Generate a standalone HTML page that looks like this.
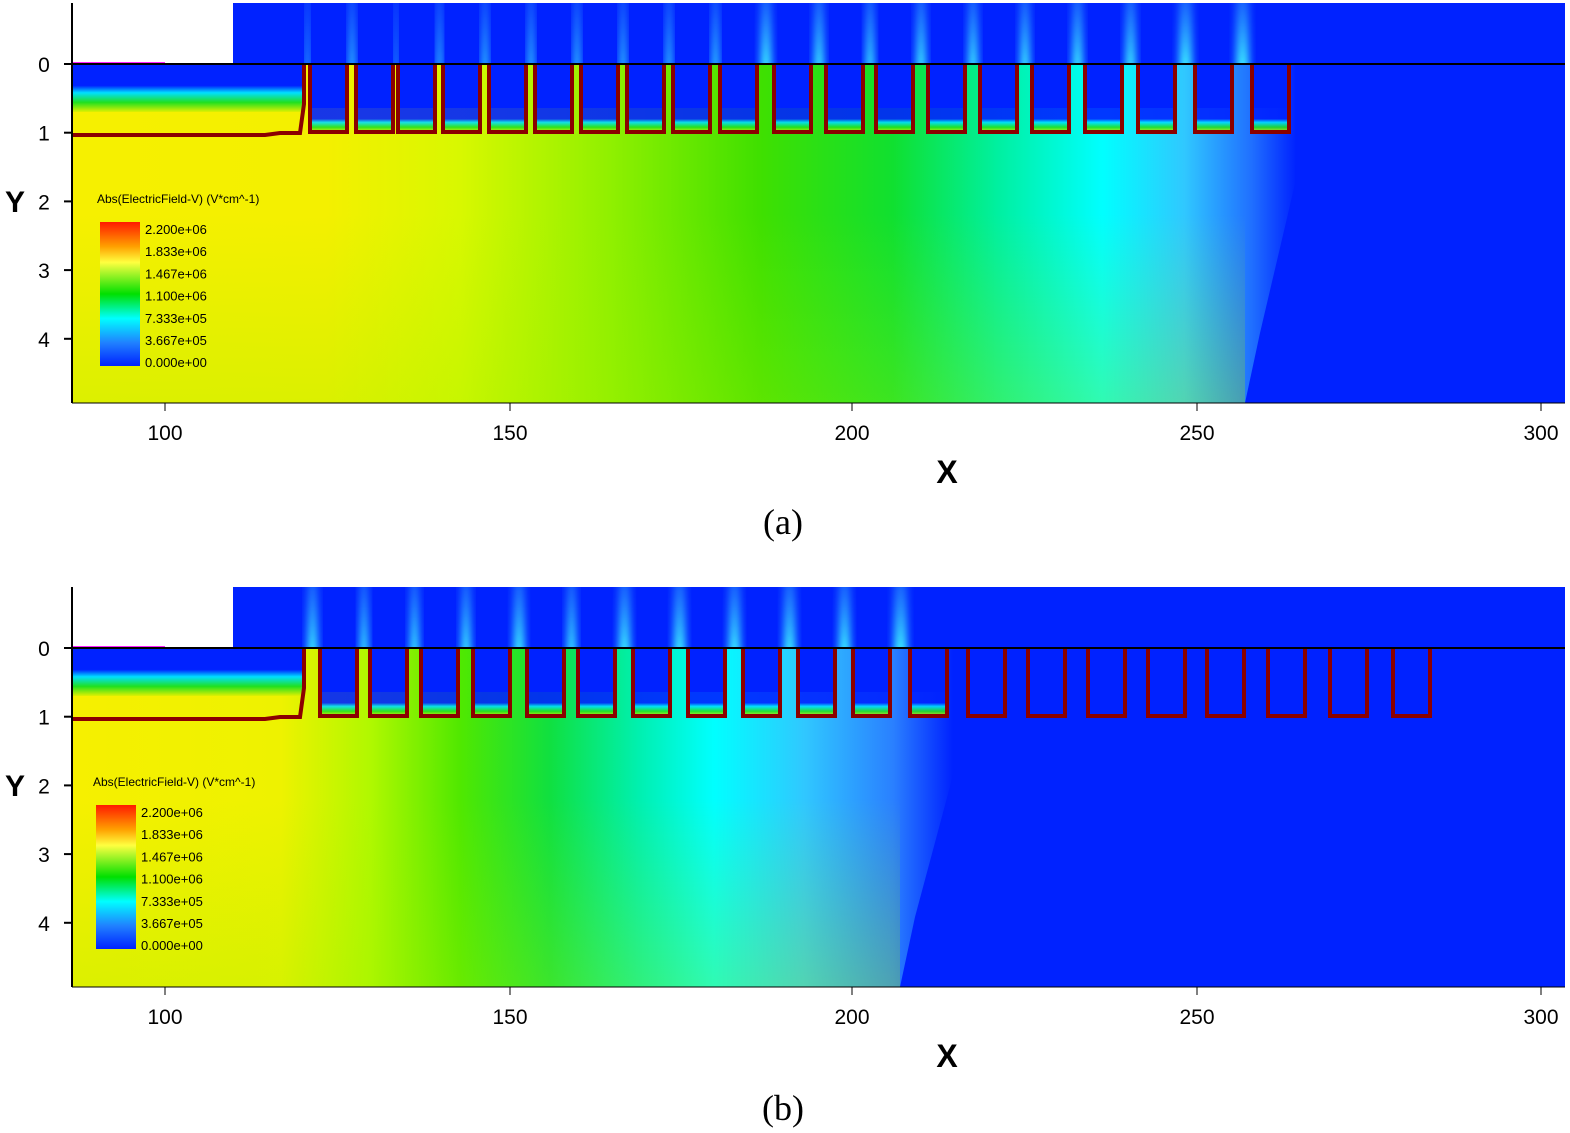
<!DOCTYPE html>
<html><head><meta charset="utf-8"><style>
body{margin:0;background:#fff;}
svg{display:block;}
.t{font-family:"Liberation Sans",sans-serif;}
</style></head><body>
<svg id="s" width="1570" height="1133" xmlns="http://www.w3.org/2000/svg">
<defs>
<linearGradient id="ga" x1="72" x2="1565" y1="0" y2="0" gradientUnits="userSpaceOnUse">
<stop offset="0" stop-color="#f6f000"/><stop offset="0.17" stop-color="#f4f000"/>
<stop offset="0.26" stop-color="#d8f800"/><stop offset="0.36" stop-color="#90f000"/>
<stop offset="0.46" stop-color="#40e000"/><stop offset="0.55" stop-color="#10e030"/>
<stop offset="0.62" stop-color="#00f0a0"/><stop offset="0.69" stop-color="#00ffff"/>
<stop offset="0.745" stop-color="#30c8ff"/><stop offset="0.79" stop-color="#2070ff"/>
<stop offset="0.82" stop-color="#0022ff"/><stop offset="1" stop-color="#0022ff"/>
</linearGradient>
<linearGradient id="gb" x1="72" x2="1565" y1="0" y2="0" gradientUnits="userSpaceOnUse">
<stop offset="0" stop-color="#f6f000"/><stop offset="0.14" stop-color="#eef200"/>
<stop offset="0.2" stop-color="#b0f800"/><stop offset="0.26" stop-color="#50e800"/>
<stop offset="0.32" stop-color="#10e040"/><stop offset="0.38" stop-color="#00f0b0"/>
<stop offset="0.43" stop-color="#00ffff"/><stop offset="0.49" stop-color="#30c8ff"/>
<stop offset="0.55" stop-color="#2a80ff"/><stop offset="0.59" stop-color="#0022ff"/>
<stop offset="1" stop-color="#0022ff"/>
</linearGradient>
<linearGradient id="vb" x1="0" x2="0" y1="0" y2="1">
<stop offset="0" stop-color="#a0f000" stop-opacity="0"/><stop offset="1" stop-color="#a0f000" stop-opacity="0.3"/>
</linearGradient>
<linearGradient id="band" x1="0" x2="0" y1="0" y2="1">
<stop offset="0" stop-color="#0022ff"/><stop offset="0.45" stop-color="#0022ff"/>
<stop offset="0.6" stop-color="#00e0ff"/><stop offset="0.8" stop-color="#20e020"/>
<stop offset="1" stop-color="#e0f000"/>
</linearGradient>
<linearGradient id="cb" x1="0" x2="0" y1="0" y2="1">
<stop offset="0" stop-color="#ff1a00"/><stop offset="0.17" stop-color="#ffa000"/>
<stop offset="0.28" stop-color="#ffff40"/><stop offset="0.5" stop-color="#00e000"/>
<stop offset="0.67" stop-color="#00ffff"/><stop offset="0.84" stop-color="#2080ff"/>
<stop offset="1" stop-color="#0022ff"/>
</linearGradient>
<linearGradient id="streak" x1="0" x2="0" y1="0" y2="1">
<stop offset="0" stop-color="#40d0ff" stop-opacity="0.4"/><stop offset="1" stop-color="#40ffff" stop-opacity="0.9"/>
</linearGradient>
<filter id="bl" x="-50%" y="0" width="200%" height="100%"><feGaussianBlur stdDeviation="4 0"/></filter>
</defs>
<g id="pa"></g><g id="pb"></g>
<text x="783" y="534" font-family="Liberation Serif" font-size="36" text-anchor="middle">(a)</text>
<text x="783" y="1120" font-family="Liberation Serif" font-size="36" text-anchor="middle">(b)</text>
</svg>
<script>
var NS="http://www.w3.org/2000/svg";
function el(p,t,a,txt){var e=document.createElementNS(NS,t);for(var k in a)e.setAttribute(k,a[k]);if(txt!==undefined)e.textContent=txt;p.appendChild(e);return e;}
function panel(g,o,grad,tr,bt,bb,legx,legy){
 var y0=64+o, top=3+o, bot=403+o;
 el(g,'rect',{x:72,y:top,width:1493,height:bot-top,fill:'#0022ff'});
 el(g,'rect',{x:72,y:top,width:161,height:y0-top,fill:'#fff'});
 el(g,'rect',{x:72,y:y0,width:1493,height:bot-y0,fill:'url(#'+grad+')'});
 el(g,'rect',{x:72,y:y0+150,width:bb-72,height:bot-y0-150,fill:'url(#vb)'});
 el(g,'polygon',{points:bt+','+y0+' 1565,'+y0+' 1565,'+bot+' '+bb+','+bot+' '+(bb+15)+','+(bot-70)+' '+(bt-5)+','+(y0+120),fill:'#0022ff'});
 el(g,'rect',{x:72,y:y0,width:232,height:48,fill:'url(#band)'});
 el(g,'line',{x1:72,y1:y0-1,x2:165,y2:y0-1,stroke:'#ff20ff','stroke-width':2});
 var w=37;
 for(var i=0;i<tr.length;i++){
  var x=tr[i];
  var gx=(i==0?304:tr[i-1]+w)+1, gw=x-gx;
  if(x<bt) el(g,'rect',{x:gx+gw*0.15,y:top,width:gw*0.7,height:y0-top,fill:'url(#streak)',filter:'url(#bl)'});
  el(g,'rect',{x:x,y:y0,width:w,height:44,fill:'#0022ff'});
  if(x<bt) el(g,'rect',{x:x,y:y0+44,width:w,height:24,fill:'url(#band)',opacity:0.9});
  else el(g,'rect',{x:x,y:y0+44,width:w,height:24,fill:'#0022ff'});
  el(g,'path',{d:'M'+x+' '+y0+'V'+(y0+68)+'H'+(x+w)+'V'+y0,fill:'none',stroke:'#8b0000','stroke-width':4});
 }
 el(g,'path',{d:'M72 '+(y0+71)+'H265L280 '+(y0+69)+'H300L304 '+(y0+40)+'V'+y0,fill:'none',stroke:'#8b0000','stroke-width':4});
 el(g,'line',{x1:72,y1:y0,x2:1565,y2:y0,stroke:'#000','stroke-width':2});
 el(g,'line',{x1:72,y1:top,x2:72,y2:bot,stroke:'#000','stroke-width':2});
 el(g,'line',{x1:72,y1:bot,x2:1565,y2:bot,stroke:'#000','stroke-width':1});
 for(var k=0;k<5;k++){var yy=y0+k*68.7;el(g,'line',{x1:64,y1:yy,x2:72,y2:yy,stroke:'#000','stroke-width':2});
  el(g,'text',{x:44,y:yy+8,'font-size':21,'text-anchor':'middle',class:'t'},''+k);}
 el(g,'text',{x:15,y:y0+148,'font-size':30,'font-weight':'bold','text-anchor':'middle',class:'t'},'Y');
 var xs=[[165,'100'],[510,'150'],[852,'200'],[1197,'250'],[1541,'300']];
 xs.forEach(function(a){el(g,'line',{x1:a[0],y1:bot,x2:a[0],y2:bot+8,stroke:'#000'});
  el(g,'text',{x:a[0],y:bot+37,'font-size':21,'text-anchor':'middle',class:'t'},a[1]);});
 el(g,'text',{x:947,y:bot+80,'font-size':32,'font-weight':'bold','text-anchor':'middle',class:'t'},'X');
 el(g,'text',{x:legx-3,y:legy-19,'font-size':12,class:'t'},'Abs(ElectricField-V) (V*cm^-1)');
 el(g,'rect',{x:legx,y:legy,width:40,height:144,fill:'url(#cb)'});
 var L=['2.200e+06','1.833e+06','1.467e+06','1.100e+06','7.333e+05','3.667e+05','0.000e+00'];
 for(var j=0;j<7;j++) el(g,'text',{x:legx+45,y:legy+12+j*22.2,'font-size':13,class:'t'},L[j]);
}
panel(document.getElementById('pa'),0,'ga',[310,356,398,443,489,535,581,627,673,720,774,826,876,928,980,1032,1085,1138,1195,1252],1300,1245,100,222);
panel(document.getElementById('pb'),584,'gb',[320,370,421,473,527,578,633,688,743,798,853,910,968,1028,1088,1148,1207,1268,1330,1393],960,900,96,805);
</script>
</body></html>
